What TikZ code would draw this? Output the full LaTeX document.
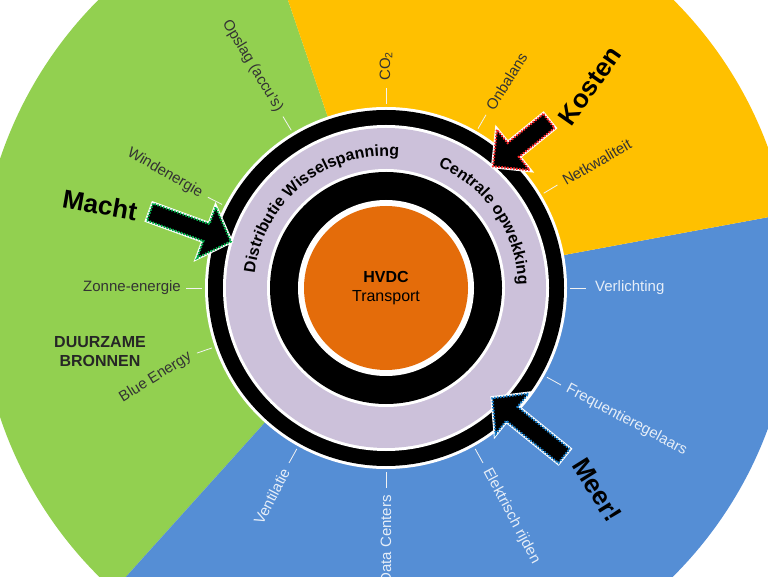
\documentclass[tikz,border=0pt]{standalone}
\usepackage{fontspec}
\setmainfont{Liberation Sans}
\usetikzlibrary{decorations.text}
\definecolor{gr}{HTML}{92D050}
\definecolor{ye}{HTML}{FFC000}
\definecolor{bl}{HTML}{558ED5}
\definecolor{orng}{HTML}{E46C0A}
\definecolor{lav}{HTML}{CCC1DA}
\definecolor{lbl}{HTML}{E6EEF8}
\begin{document}
\begin{tikzpicture}[x=1pt,y=1pt,
  lab/.style={font=\fontsize{15}{15}\selectfont, text=black!80, inner sep=1pt},
  wlab/.style={lab, text=lbl},
  big/.style={font=\bfseries\fontsize{26}{26}\selectfont, text=black, inner sep=0pt},
  tick/.style={draw=white!90!gray, line width=0.8pt},
  barrow/.style={fill=black, preaction={draw=white,line width=4pt}, line width=2.2pt,
    dash pattern=on 1.5pt off 1.5pt, line join=miter}]
\useasboundingbox (0,0) rectangle (768,576);
\clip (0,0) rectangle (768,576);
\fill[white] (0,0) rectangle (768,576);
\coordinate (C) at (386,288);
% sectors
\fill[gr] (C) -- ++(108.8:407) arc[start angle=108.8,end angle=228,radius=407] -- cycle;
\fill[bl] (C) -- ++(228:407) arc[start angle=228,end angle=370.5,radius=407] -- cycle;
\fill[ye] (C) -- ++(10.5:407) arc[start angle=10.5,end angle=108.8,radius=407] -- cycle;
% rings
\fill[white] (C) circle[radius=181];
\fill[black] (C) circle[radius=178];
\fill[white] (C) circle[radius=163];
\fill[lav] (C) circle[radius=160];
\fill[white] (C) circle[radius=119];
\fill[black] (C) circle[radius=116];
\fill[white] (C) circle[radius=88];
\node[circle, fill=orng, minimum size=164pt, inner sep=0pt, align=center,
  font=\fontsize{16}{19}\selectfont] (core) at (C) {\textbf{HVDC}\\Transport};
% ring texts
\path[decorate, decoration={text along path, text align=center,
  text={|\bfseries\fontsize{16}{16}\selectfont|Distributie Wisselspanning}}]
  (C) ++(180:132) arc[start angle=180,end angle=78,radius=132];
\path[decorate, decoration={text along path, text align=center,
  text={|\bfseries\fontsize{16}{16}\selectfont|Centrale opwekking}}]
  (C) ++(76:132) arc[start angle=76,end angle=-8,radius=132];
% ticks
\foreach \a in {121,153,180,199,241,270,299,331,0,31,60,90}
  \draw[tick] (C) ++(\a:184) -- ++(\a:16);
% labels
\node[lab, anchor=east, rotate=-59] (opslag) at ([shift={(121:206)}]C) {Opslag (accu's)};
\node[lab, anchor=east, rotate=-30] (wind) at ([shift={(153:206)}]C) {Windenergie};
\node[lab, anchor=east] (zon) at ([shift={(180:204)}]C) {Zonne-energie};
\node[lab, anchor=east, rotate=32] (blue) at ([shift={(199:206)}]C) {Blue Energy};
\node[font=\bfseries\fontsize{16}{19}\selectfont, text=black!85, align=center] (duur) at (100,224) {DUURZAME\\BRONNEN};
\node[wlab, anchor=east, rotate=63] (vent) at ([shift={(241:206)}]C) {Ventilatie};
\node[wlab, anchor=east, rotate=90] (data) at ([shift={(270:206)}]C) {Data Centers};
\node[wlab, anchor=west, rotate=-62] (elek) at ([shift={(299:206)}]C) {Elektrisch rijden};
\node[wlab, anchor=west, rotate=-28] (freq) at ([shift={(331:206)}]C) {Frequentieregelaars};
\node[wlab, anchor=west] (verl) at ([shift={(0:208)}]C) {Verlichting};
\node[lab, anchor=west, rotate=30] (net) at ([shift={(31:206)}]C) {Netkwaliteit};
\node[lab, anchor=west, rotate=58] (onb) at ([shift={(60:206)}]C) {Onbalans};
\node[lab, anchor=west, rotate=90] (co2) at ([shift={(90:206)}]C) {CO\textsubscript{2}};
% big labels
\node[big, rotate=-10] (macht) at (100,371) {Macht};
\node[big, rotate=55] (kosten) at (590,490) {Kosten};
\node[big, rotate=-58] (meer) at (597,86) {Meer!};
% block arrows
\coordinate (tm) at (150,364);
\coordinate (tk) at (549,455);
\coordinate (tr) at (564,120);
\draw[barrow, draw=teal!60!green, shift={(tm)}, rotate=-20]
  (0,-9) -- (60,-9) -- (60,-27) -- (86,0) -- (60,27) -- (60,9) -- (0,9) -- cycle;
\draw[barrow, draw=red!85!white, shift={(tk)}, rotate=219]
  (0,-9) -- (46,-9) -- (46,-26) -- (72,0) -- (46,26) -- (46,9) -- (0,9) -- cycle;
\draw[barrow, draw=cyan!60!blue, shift={(tr)}, rotate=141]
  (0,-9) -- (67,-9) -- (67,-26) -- (92,0) -- (67,26) -- (67,9) -- (0,9) -- cycle;
\end{tikzpicture}
\end{document}
